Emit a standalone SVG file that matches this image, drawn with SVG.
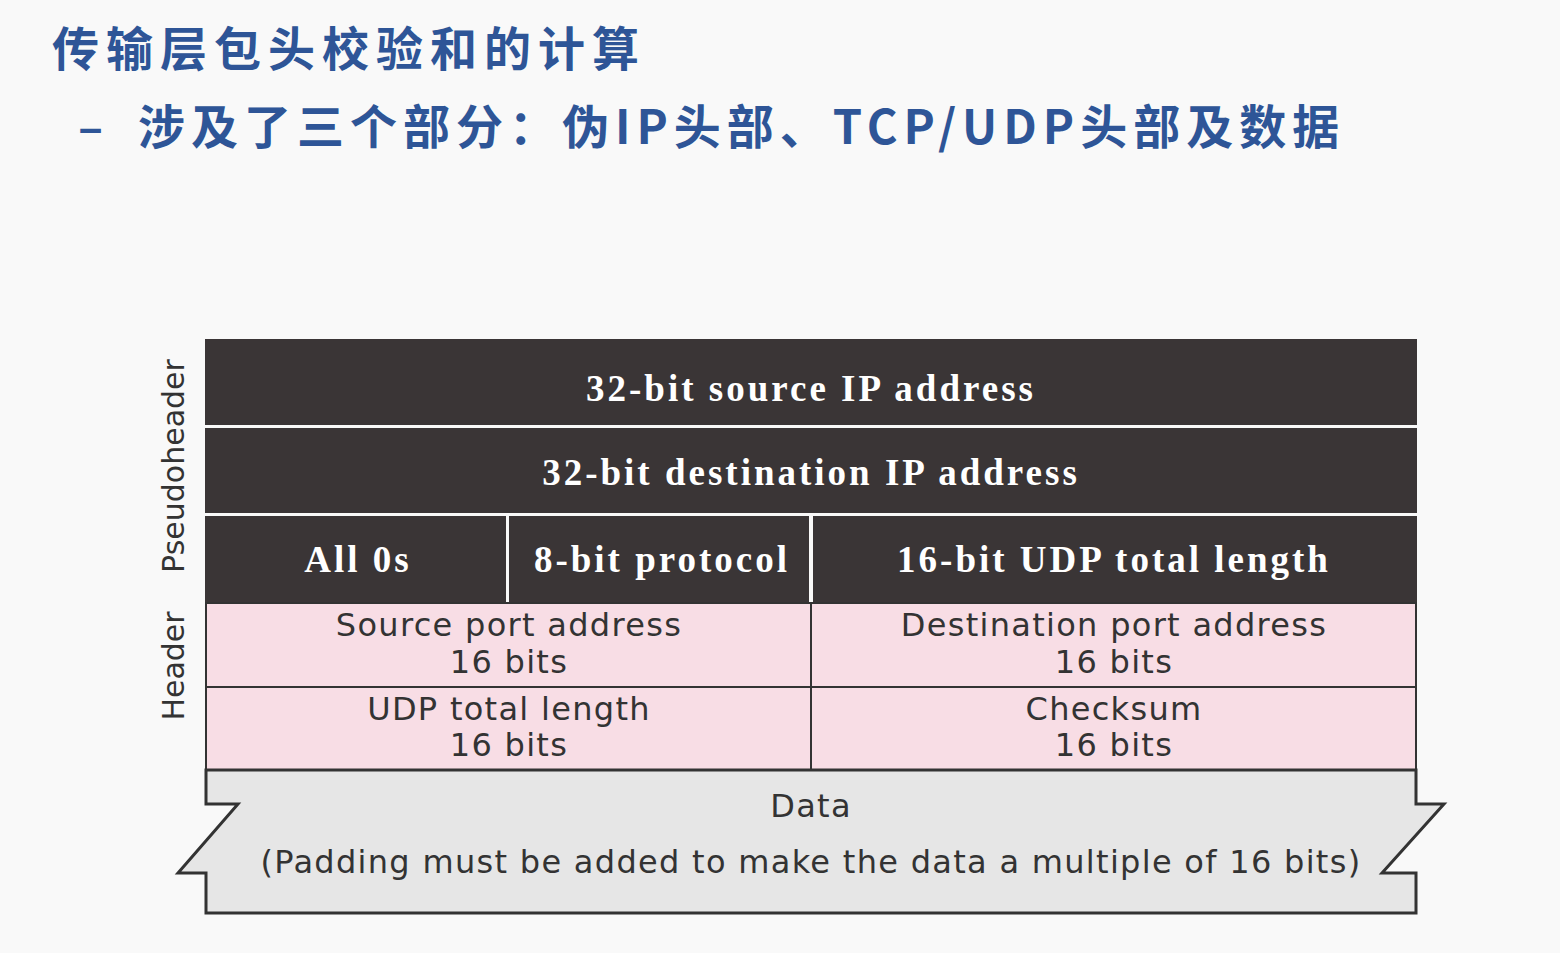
<svg xmlns="http://www.w3.org/2000/svg" width="1560" height="953" viewBox="0 0 1560 953">
<style>
.t{font-family:"Noto Sans CJK SC","Noto Sans",sans-serif;font-weight:bold;fill:#2e5597}
.d{fill:#3a3536;stroke:none}
.w{font-family:"Liberation Serif",serif;font-weight:bold;font-size:37px;letter-spacing:3px;fill:#fff;text-anchor:middle}
.p{fill:#f8dde5;stroke:#333;stroke-width:2}
.s{font-family:"DejaVu Sans",sans-serif;font-size:32px;letter-spacing:1.3px;fill:#333;text-anchor:middle}
.l{font-family:"DejaVu Sans",sans-serif;font-size:30px;fill:#333;text-anchor:middle}
</style>
<rect width="1560" height="953" fill="#f9f9f9"/>
<text class="t" x="52" y="66" font-size="47" letter-spacing="7">传输层包头校验和的计算</text>
<text class="t" x="78" y="144" font-size="46">–</text>
<text class="t" x="138" y="144" font-size="47" letter-spacing="6">涉及了三个部分：伪IP头部、TCP/UDP头部及数据</text>
<g id="labels">
<text class="l" transform="translate(184,466) rotate(-90)">Pseudoheader</text>
<text class="l" transform="translate(184,666) rotate(-90)">Header</text>
</g>
<g id="src"><rect class="d" x="205" y="339" width="1212" height="86"/><text class="w" x="811" y="401">32-bit source IP address</text></g>
<g id="dst"><rect class="d" x="205" y="428" width="1212" height="85"/><text class="w" x="811" y="485">32-bit destination IP address</text></g>
<g id="zeros"><rect class="d" x="205" y="516" width="301" height="86"/><text class="w" x="358" y="572">All 0s</text></g>
<g id="proto"><rect class="d" x="509" y="516" width="300" height="86"/><text class="w" x="662" y="572">8-bit protocol</text></g>
<g id="len"><rect class="d" x="813" y="516" width="604" height="86"/><text class="w" x="1114" y="572">16-bit UDP total length</text></g>
<g id="sport"><rect class="p" x="206" y="603" width="605" height="84"/><text class="s" x="509" y="636">Source port address</text><text class="s" x="509" y="673">16 bits</text></g>
<g id="dport"><rect class="p" x="811" y="603" width="605" height="84"/><text class="s" x="1114" y="636">Destination port address</text><text class="s" x="1114" y="673">16 bits</text></g>
<g id="ulen"><rect class="p" x="206" y="687" width="605" height="83"/><text class="s" x="509" y="720">UDP total length</text><text class="s" x="509" y="756">16 bits</text></g>
<g id="csum"><rect class="p" x="811" y="687" width="605" height="83"/><text class="s" x="1114" y="720">Checksum</text><text class="s" x="1114" y="756">16 bits</text></g>
<g id="data">
<path d="M206,770 H1416 V804 H1444 L1382,873 H1416 V913 H206 V873 H178 L238,804 H206 Z" fill="#e6e6e6" stroke="#333" stroke-width="3"/>
<text class="s" x="811" y="817">Data</text>
<text class="s" x="811" y="873">(Padding must be added to make the data a multiple of 16 bits)</text>
</g>
<g id="connectors"></g>
</svg>
